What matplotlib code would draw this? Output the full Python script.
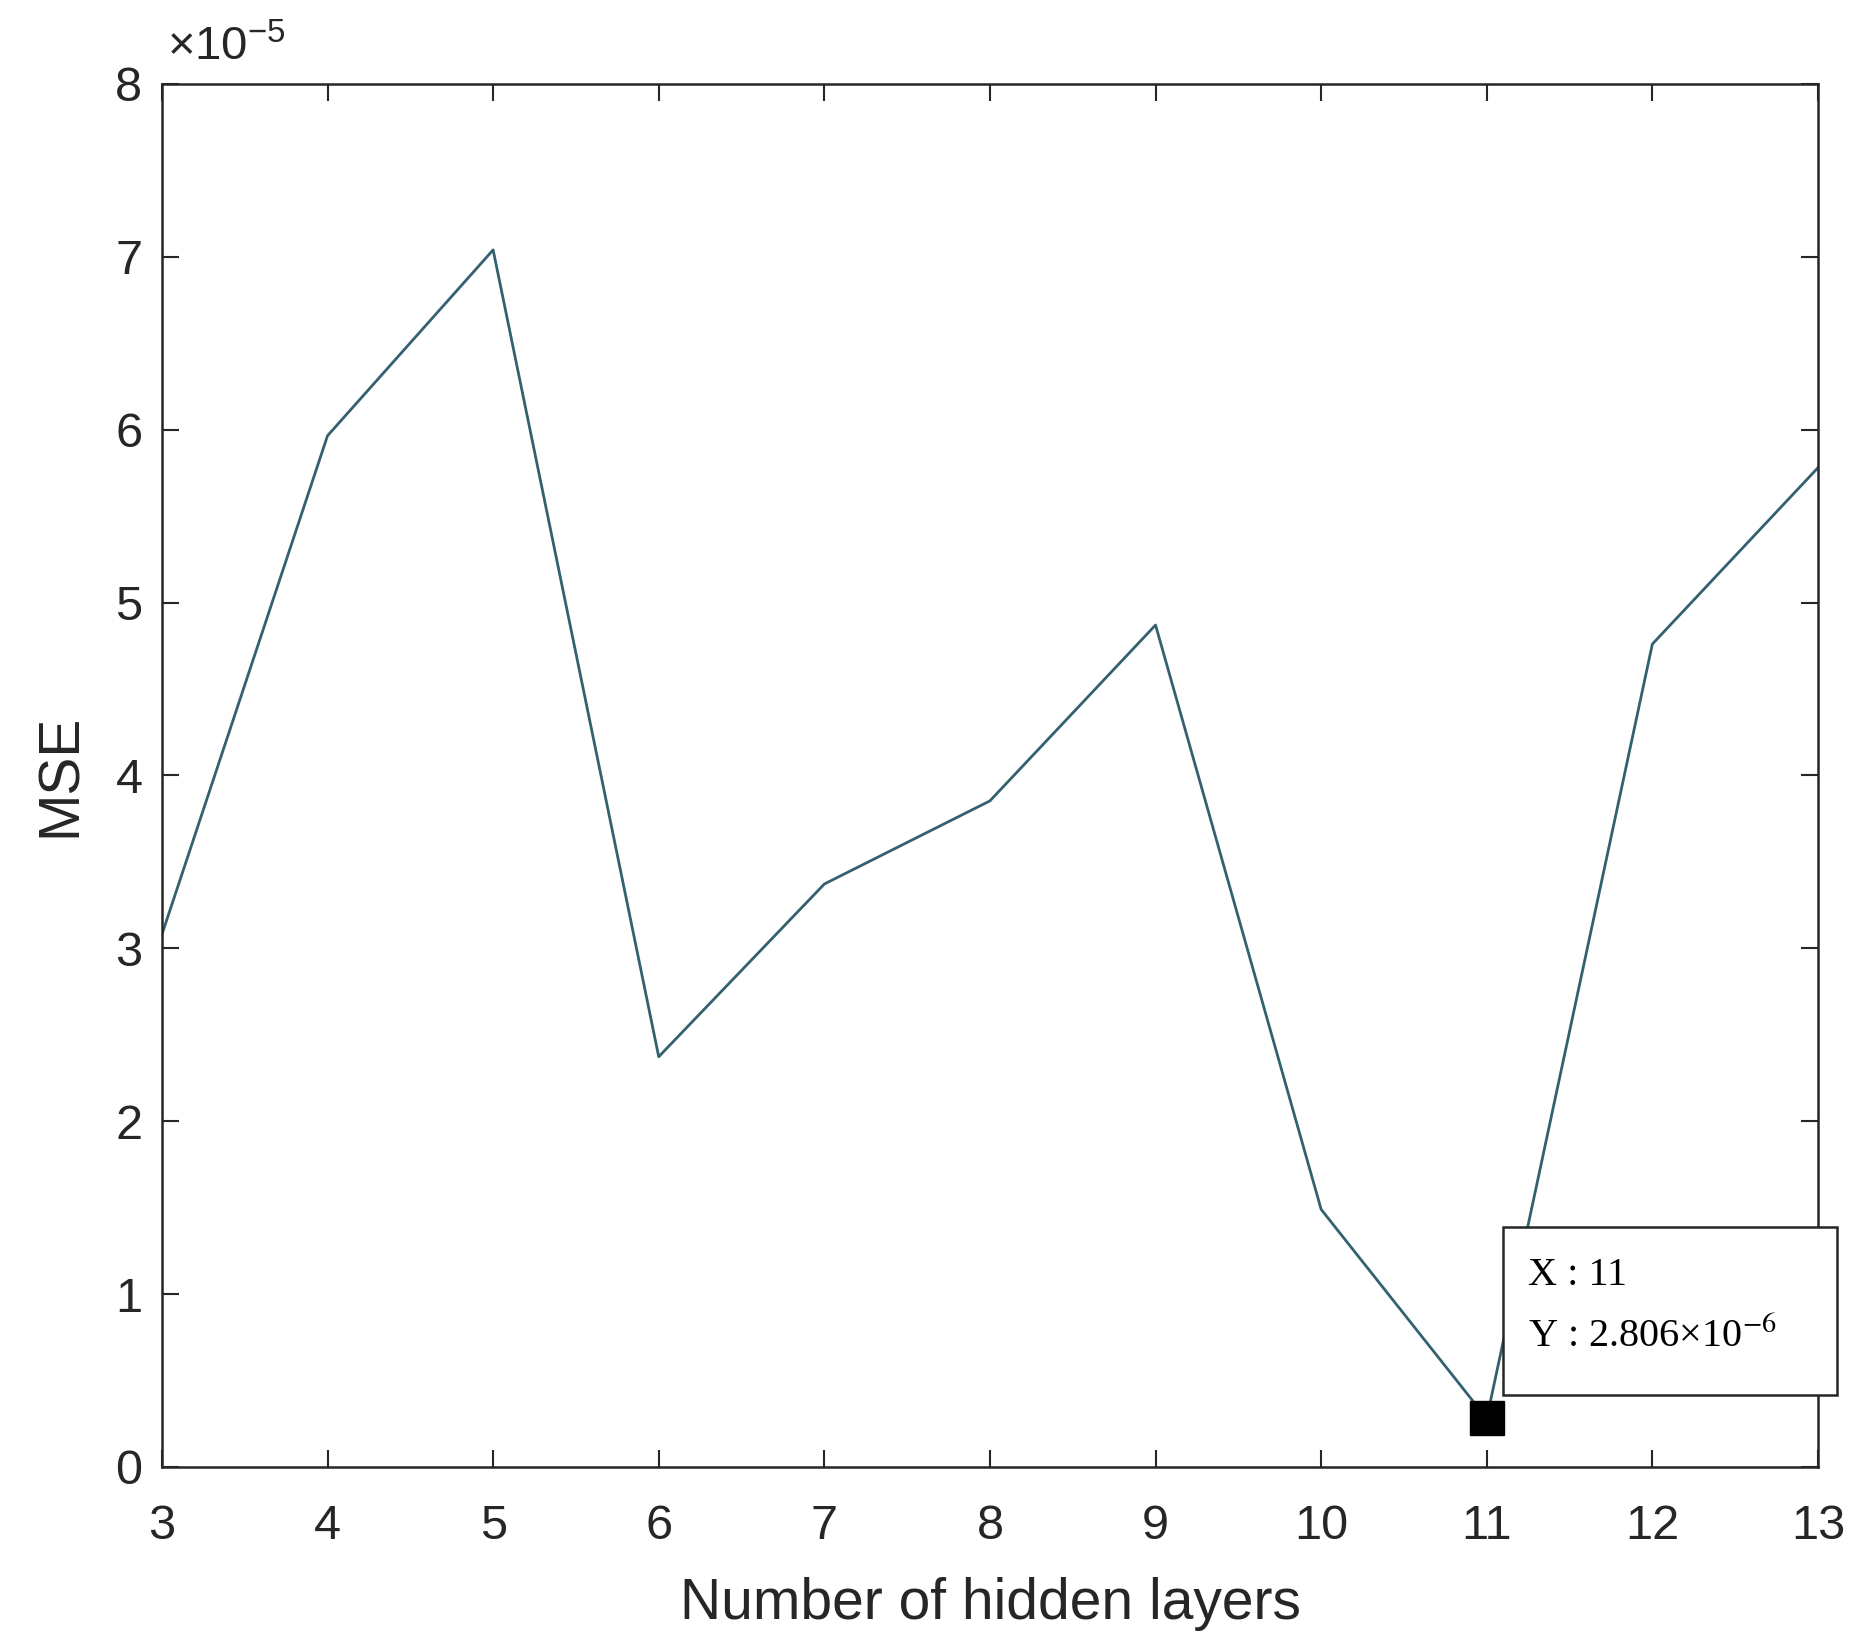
import matplotlib
matplotlib.use('Agg')
import matplotlib.pyplot as plt
from matplotlib.patches import Rectangle
from matplotlib.ticker import FuncFormatter

plt.rcParams['font.family'] = ['Liberation Sans', 'DejaVu Sans']
plt.rcParams['mathtext.fontset'] = 'custom'
plt.rcParams['mathtext.rm'] = 'Liberation Sans'

hidden_layers = [3, 4, 5, 6, 7, 8, 9, 10, 11, 12, 13]
mse = [3.08e-5, 5.965e-5, 7.04e-5, 2.373e-5, 3.372e-5, 3.853e-5,
       4.87e-5, 1.49e-5, 2.806e-6, 4.76e-5, 5.78e-5]
tip_index = 8
y_ticks = [0, 1e-5, 2e-5, 3e-5, 4e-5, 5e-5, 6e-5, 7e-5, 8e-5]

dark = '#262626'

fig = plt.figure(figsize=(18.74, 16.52), dpi=100)
ax = fig.add_axes([0.0864, 0.1120, 0.8837, 0.8372])

ax.plot(hidden_layers, mse, color='#34616f', lw=2.0, zorder=2)
ax.plot(hidden_layers[tip_index], mse[tip_index], marker='s', ms=24,
        color='black', zorder=4, clip_on=False)

ax.set_xlim(3, 13)
ax.set_ylim(0, 8e-5)
ax.set_xticks(hidden_layers)
ax.set_yticks(y_ticks)
ax.yaxis.set_major_formatter(FuncFormatter(lambda v, p: '%g' % round(v / 1e-5, 6)))

ax.tick_params(direction='in', length=12, width=1.5, labelsize=35,
               colors=dark, top=True, right=True, pad=14)
ax.tick_params(axis='x', pad=27)
for s in ax.spines.values():
    s.set_linewidth(1.8)
    s.set_color(dark)

ax.set_xlabel('Number of hidden layers', fontsize=41, color=dark, labelpad=20)
ax.set_ylabel('MSE', fontsize=41, color=dark, labelpad=20)

ax.text(0.003, 1.017, '×10$^{-5}$', transform=ax.transAxes, fontsize=34,
        color=dark, ha='left', va='baseline')

# data tip box
box = Rectangle((0.8098, 0.0521), 0.2017, 0.1214, transform=ax.transAxes,
                facecolor='white', edgecolor=dark, lw=1.8, zorder=5, clip_on=False)
ax.add_patch(box)
ax.text(0.8249, 0.1388, 'X : %d' % hidden_layers[tip_index], transform=ax.transAxes,
        fontsize=29, family='Liberation Serif', color='black', va='center', zorder=6)
ax.text(0.8249, 0.0940, 'Y : %.3f×10$^{-6}$' % (mse[tip_index] * 1e6),
        transform=ax.transAxes, fontsize=29, family='Liberation Serif',
        math_fontfamily='stix', color='black', va='center', zorder=6)

fig.savefig('out.png', dpi=100, facecolor='white')
